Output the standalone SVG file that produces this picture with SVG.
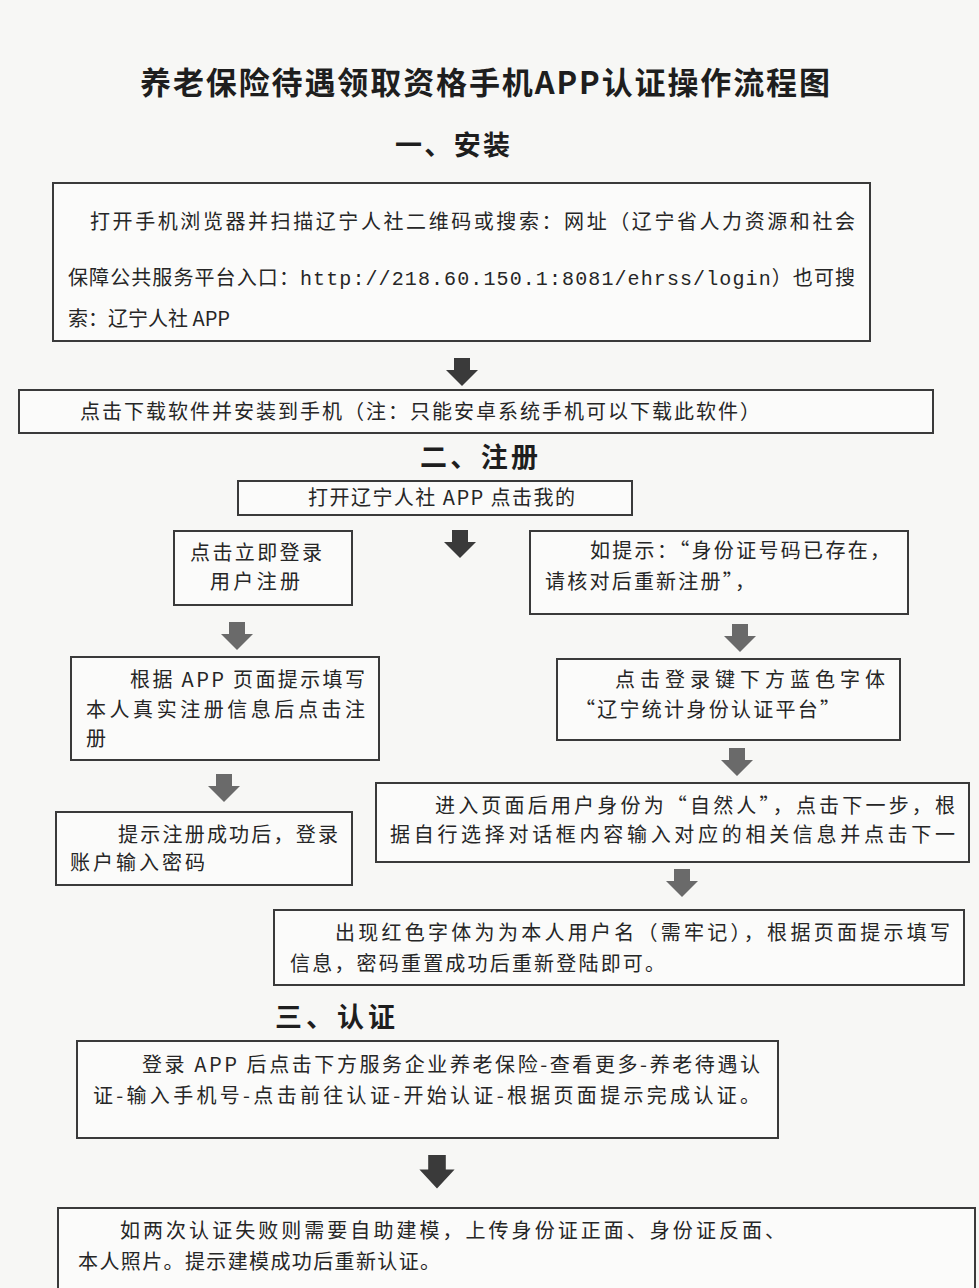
<svg xmlns="http://www.w3.org/2000/svg" width="979" height="1288" viewBox="0 0 979 1288">
<style>
.bg{fill:#f7f7f5}
.box{fill:#fbfbfa;stroke:#3a3a3a;stroke-width:2}
.t{font-family:"Noto Sans CJK SC","Liberation Serif",sans-serif;font-size:20px;fill:#262626}
.h{font-family:"Noto Sans CJK SC","Liberation Sans",sans-serif;font-weight:bold;fill:#1e1e1e}
.arr{fill:#3a3a3a}
.arrg{fill:#6a6a6a}
</style>
<defs>
<path id="a" d="M-8,0 H8 V12 H16 L0,28 L-16,12 H-8 Z"/>
</defs>
<rect class="bg" width="979" height="1288"/>
<text class="h" x="140" y="94" font-size="31" textLength="690" lengthAdjust="spacing">养老保险待遇领取资格手机APP认证操作流程图</text>
<text class="h" x="395" y="155" font-size="27" textLength="115" lengthAdjust="spacing">一、安装</text>
<text class="h" x="420" y="467" font-size="27" textLength="118" lengthAdjust="spacing">二、注册</text>
<text class="h" x="275" y="1027" font-size="27" textLength="120" lengthAdjust="spacing">三、认证</text>
<g id="connectors">
<use href="#a" class="arr" x="462" y="358"/>
<use href="#a" class="arr" x="460" y="530"/>
<use href="#a" class="arrg" x="237" y="622"/>
<use href="#a" class="arrg" x="740" y="624"/>
<use href="#a" class="arrg" x="224" y="774"/>
<use href="#a" class="arrg" x="737" y="748"/>
<use href="#a" class="arrg" x="682" y="869"/>
<g transform="translate(437,1155) scale(1.1,1.2)"><use href="#a" class="arr"/></g>
</g>
<g id="n1"><rect class="box" x="53" y="183" width="817" height="158"/>
<text class="t" x="90" y="229" textLength="765" lengthAdjust="spacing">打开手机浏览器并扫描辽宁人社二维码或搜索：网址（辽宁省人力资源和社会</text>
<text class="t" x="68" y="285" textLength="787" lengthAdjust="spacing">保障公共服务平台入口：<tspan font-family="Liberation Mono,monospace">http://218.60.150.1:8081/ehrss/login</tspan>）也可搜</text>
<text class="t" x="68" y="326">索：辽宁人社 APP</text></g>
<g id="n2"><rect class="box" x="19" y="390" width="914" height="43"/>
<text class="t" x="80" y="419" textLength="680" lengthAdjust="spacing">点击下载软件并安装到手机（注：只能安卓系统手机可以下载此软件）</text></g>
<g id="n3"><rect class="box" x="238" y="481" width="394" height="34"/>
<text class="t" x="308" y="505" textLength="267" lengthAdjust="spacing">打开辽宁人社 APP 点击我的</text></g>
<g id="n4"><rect class="box" x="174" y="531" width="178" height="74"/>
<text class="t" x="190" y="560" textLength="132" lengthAdjust="spacing">点击立即登录</text><text class="t" x="210" y="589" textLength="90" lengthAdjust="spacing">用户注册</text></g>
<g id="n5"><rect class="box" x="530" y="531" width="378" height="83"/>
<text class="t" x="590" y="558" textLength="300" lengthAdjust="spacing">如提示：“身份证号码已存在，</text><text class="t" x="545" y="589" textLength="210" lengthAdjust="spacing">请核对后重新注册”，</text></g>
<g id="n6"><rect class="box" x="71" y="657" width="308" height="103"/>
<text class="t" x="130" y="687" textLength="235" lengthAdjust="spacing">根据 APP 页面提示填写</text><text class="t" x="86" y="717" textLength="279" lengthAdjust="spacing">本人真实注册信息后点击注</text><text class="t" x="86" y="746">册</text></g>
<g id="n7"><rect class="box" x="557" y="659" width="343" height="81"/>
<text class="t" x="615" y="687" textLength="270" lengthAdjust="spacing">点击登录键下方蓝色字体</text><text class="t" x="575" y="717" textLength="265" lengthAdjust="spacing">“辽宁统计身份认证平台”</text></g>
<g id="n8"><rect class="box" x="56" y="812" width="296" height="73"/>
<text class="t" x="118" y="842" textLength="220" lengthAdjust="spacing">提示注册成功后，登录</text><text class="t" x="70" y="870" textLength="135" lengthAdjust="spacing">账户输入密码</text></g>
<g id="n9"><rect class="box" x="376" y="783" width="593" height="79"/>
<text class="t" x="435" y="813" textLength="520" lengthAdjust="spacing">进入页面后用户身份为“自然人”，点击下一步，根</text><text class="t" x="390" y="842" textLength="565" lengthAdjust="spacing">据自行选择对话框内容输入对应的相关信息并点击下一</text></g>
<g id="n10"><rect class="box" x="274" y="910" width="690" height="75"/>
<text class="t" x="335" y="940" textLength="615" lengthAdjust="spacing">出现红色字体为为本人用户名（需牢记），根据页面提示填写</text><text class="t" x="290" y="971" textLength="375" lengthAdjust="spacing">信息，密码重置成功后重新登陆即可。</text></g>
<g id="n11"><rect class="box" x="77" y="1041" width="701" height="97"/>
<text class="t" x="142" y="1072" textLength="618" lengthAdjust="spacing">登录 APP 后点击下方服务企业养老保险-查看更多-养老待遇认</text><text class="t" x="93" y="1103" textLength="667" lengthAdjust="spacing">证-输入手机号-点击前往认证-开始认证-根据页面提示完成认证。</text></g>
<g id="n12"><rect class="box" x="58" y="1208" width="917" height="90"/>
<text class="t" x="120" y="1238" textLength="665" lengthAdjust="spacing">如两次认证失败则需要自助建模，上传身份证正面、身份证反面、</text><text class="t" x="78" y="1269" textLength="362" lengthAdjust="spacing">本人照片。提示建模成功后重新认证。</text></g>
</svg>
